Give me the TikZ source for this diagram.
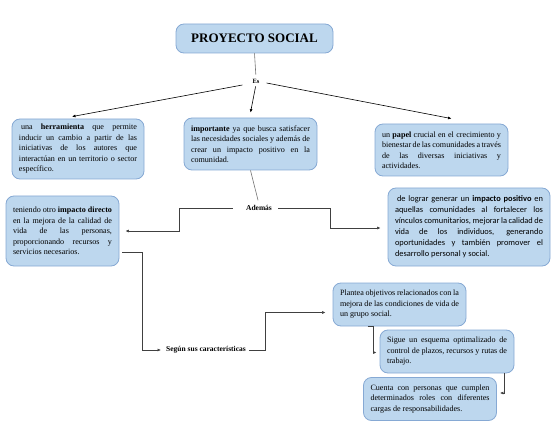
\documentclass[tikz,border=0pt]{standalone}
\usepackage{fontspec}
\setmainfont{Liberation Serif}
\newfontfamily\calibri{Carlito}
\usepackage{tikz}
\usetikzlibrary{arrows.meta,calc}
\definecolor{cajaazul}{HTML}{BDD7EE}
\definecolor{bordeazul}{HTML}{86A9D4}
\hyphenpenalty=10000
\exhyphenpenalty=10000
\tolerance=9999
\begin{document}
\begin{tikzpicture}[x=1pt,y=-1pt]
	\tikzstyle{every node}+=[inner sep=0pt]
	\tikzstyle{caja}=[draw=bordeazul, fill=cajaazul, rounded corners=8pt, line width=0.8pt, inner xsep=7pt, align=justify, font=\fontsize{8.1}{10.5}\selectfont]
	\tikzstyle{etiqueta}=[font=\bfseries\fontsize{7.5}{9}\selectfont, fill=white, inner sep=1pt]
	\tikzstyle{flecha}=[black!75, line width=0.6pt, -{Latex[length=3.5pt,width=3pt]}]
	\tikzstyle{linea}=[black!55, line width=0.6pt]
	\useasboundingbox (0,0) rectangle (560,433);
	\node [caja, align=center, font=\bfseries\fontsize{13}{15}\selectfont, minimum width=157pt, minimum height=29pt] (titulo) at (254.5,38.5) {PROYECTO SOCIAL};
	\node [etiqueta, font=\bfseries\fontsize{6.5}{8}\selectfont] (es) at (256,81) {Es};
	\node [caja, text width=118pt, minimum height=60pt] (herramienta) at (78,149) {\hspace{2pt}una \textbf{herramienta} que permite\linebreak inducir un cambio a partir de las\linebreak iniciativas de los autores que\linebreak interactúan en un territorio o sector\linebreak específico.};
	\node [caja, text width=119pt, minimum height=52pt] (importante) at (250.5,144) {\textbf{importante} ya que busca satisfacer\linebreak las necesidades sociales y además de\linebreak crear un impacto positivo en la\linebreak comunidad.};
	\node [caja, text width=119pt, minimum height=52pt] (papel) at (441.5,150) {un \textbf{papel} crucial en el crecimiento y\linebreak bienestar de las comunidades a través\linebreak de las diversas iniciativas y\linebreak actividades.};
	\node [etiqueta] (ademas) at (259,208) {Además};
	\node [caja, text width=99pt, minimum height=70pt] (directo) at (62.5,231) {teniendo otro \textbf{impacto directo}\linebreak en la mejora de la calidad de\linebreak vida de las personas,\linebreak proporcionando recursos y\linebreak servicios necesarios.};
	\node [caja, text width=148pt, minimum height=78pt, font=\calibri\fontsize{8.4}{11}\selectfont] (positivo) at (469,227) {\hspace{2pt}de lograr generar un \textbf{impacto positivo} en\linebreak aquellas comunidades al fortalecer los\linebreak vínculos comunitarios, mejorar la calidad de\linebreak vida de los individuos, generando\linebreak oportunidades y también promover el\linebreak desarrollo personal y social.};
	\node [etiqueta] (segun) at (206,350) {Según sus características};
	\node [caja, text width=119pt, minimum height=43pt] (plantea) at (399.5,304.5) {Plantea objetivos relacionados con la\linebreak mejora de las condiciones de vida de\linebreak un grupo social.};
	\node [caja, text width=120pt, minimum height=43pt] (sigue) at (447,351.5) {Sigue un esquema optimalizado de\linebreak control de plazos, recursos y rutas de\linebreak trabajo.};
	\node [caja, text width=119pt, minimum height=43pt] (cuenta) at (430,399) {Cuenta con personas que cumplen\linebreak determinados roles con diferentes\linebreak cargas de responsabilidades.};
	\draw [linea, shorten >=3pt] (titulo.south) -- (es.north);
	\draw [flecha, black] ($(es.west)+(-9,4)$) -- ($(herramienta.north)+(-6,-2)$);
	\draw [flecha, black, shorten <=2pt] (es.south) -- ($(importante.north)+(0,-5)$);
	\draw [flecha, black] ($(es.east)+(6,2)$) -- ($(papel.north)+(10,-5)$);
	\draw [linea, shorten >=4pt] (importante.south) -- (ademas.north);
	\draw [flecha] ($(ademas.west)+(-12,0)$) -- (179,208) |- ($(directo.east)+(6,0)$);
	\draw [flecha] ($(ademas.east)+(5,0)$) -- (330,208) |- ($(positivo.west)+(-7,1)$);
	\draw [flecha] ($(directo.east)+(3,21)$) -- (142,252) |- ($(segun.west)+(-4,0)$);
	\draw [flecha] ($(segun.east)+(2,0)$) -- (265,350) |- ($(plantea.west)+(-7,8)$);
	\draw [flecha] ($(plantea.south)+(-32,0)$) -- ++(6,0) |- ($(sigue.west)+(-3,1)$);
	\draw [flecha] ($(sigue.south)+(57,0)$) |- ($(cuenta.east)+(3,-6)$);
\end{tikzpicture}
\end{document}
